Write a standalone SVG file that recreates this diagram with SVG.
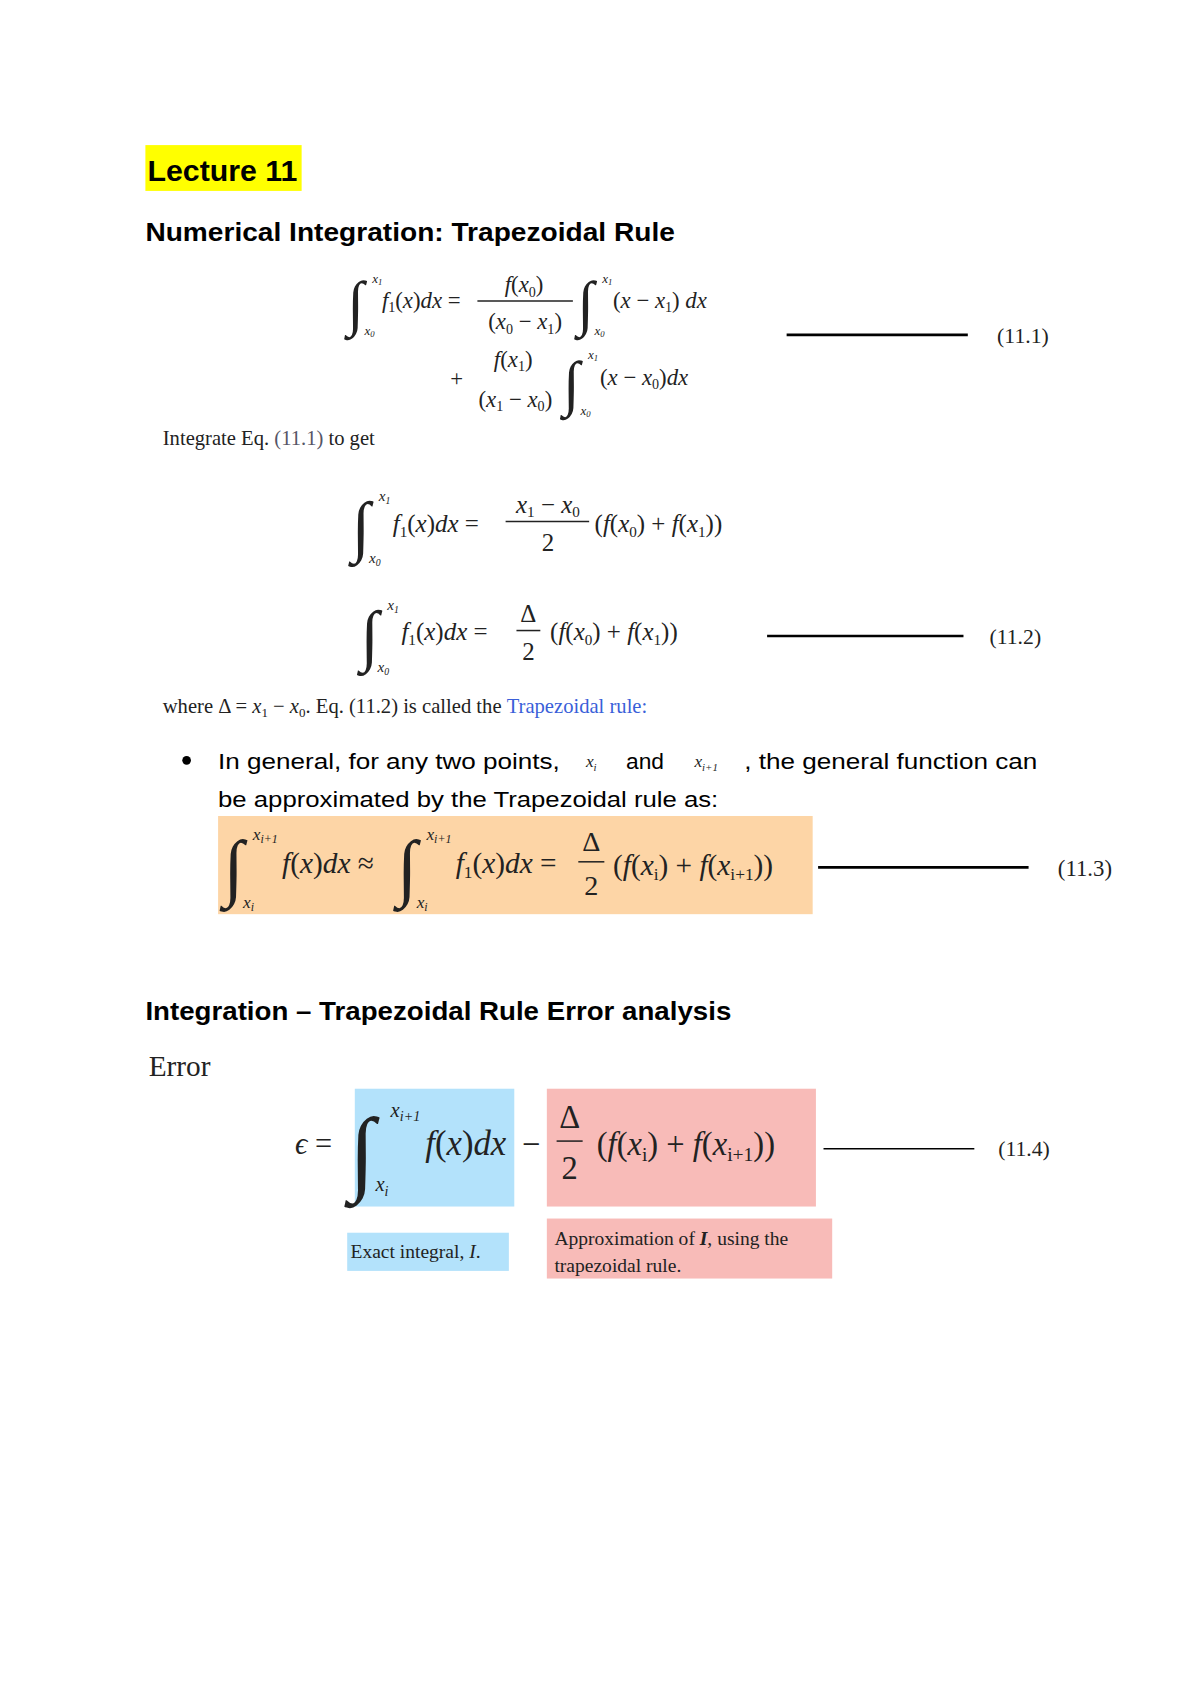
<svg xmlns="http://www.w3.org/2000/svg" width="1200" height="1698" viewBox="0 0 1200 1698">
<style>
.h{font-family:"Liberation Sans",Arial,sans-serif;font-weight:bold;fill:#000}
.b{font-family:"Liberation Sans",Arial,sans-serif;fill:#000}
.m{font-family:"Liberation Serif","Times New Roman",serif;font-style:italic;fill:#222}
.r{font-family:"Liberation Serif","Times New Roman",serif;font-style:normal}
.i{font-family:"Liberation Serif","Times New Roman",serif;fill:#222}
.ln{stroke:#000;stroke-width:2.5}
.fr{stroke:#222;stroke-width:1.4}
</style>
<rect width="1200" height="1698" fill="#fff"/>
<g transform="scale(1.085,1.0909)">
<g id="title">
<rect x="134" y="133" width="144" height="42" fill="#ffff00"/>
<text class="h" x="136" y="166" font-size="27" textLength="138" lengthAdjust="spacingAndGlyphs">Lecture 11</text>
<text class="h" x="134" y="221" font-size="24" textLength="488" lengthAdjust="spacingAndGlyphs">Numerical Integration: Trapezoidal Rule</text>
</g>
<g id="eq11_1">
<text class="i" x="320" y="297" font-size="56">∫</text>
<text class="m" x="343" y="259" font-size="12">x<tspan font-size="8" dy="2">1</tspan></text>
<text class="m" x="336" y="307" font-size="12">x<tspan font-size="8" dy="2">0</tspan></text>
<text class="m" x="352" y="282" font-size="21">f<tspan font-size="13" dy="4" class="r">1</tspan><tspan dy="-4" class="r">(</tspan>x<tspan class="r">)</tspan>dx <tspan class="r">=</tspan></text>
<text class="m" x="483" y="268" font-size="21" text-anchor="middle">f<tspan class="r">(</tspan>x<tspan font-size="13" dy="4" class="r">0</tspan><tspan dy="-4" class="r">)</tspan></text>
<line class="fr" x1="440" y1="276" x2="528" y2="276"/>
<text class="m" x="484" y="302" font-size="21" text-anchor="middle"><tspan class="r">(</tspan>x<tspan font-size="13" dy="4" class="r">0</tspan><tspan dy="-4" class="r"> − </tspan>x<tspan font-size="13" dy="4" class="r">1</tspan><tspan dy="-4" class="r">)</tspan></text>
<text class="i" x="532" y="297" font-size="56">∫</text>
<text class="m" x="555" y="259" font-size="12">x<tspan font-size="8" dy="2">1</tspan></text>
<text class="m" x="548" y="307" font-size="12">x<tspan font-size="8" dy="2">0</tspan></text>
<text class="m" x="565" y="282" font-size="21"><tspan class="r">(</tspan>x <tspan class="r">−</tspan> x<tspan font-size="13" dy="4" class="r">1</tspan><tspan dy="-4" class="r">)</tspan> dx</text>
<text class="r" x="415" y="354" font-size="21" fill="#222">+</text>
<text class="m" x="473" y="336" font-size="21" text-anchor="middle">f<tspan class="r">(</tspan>x<tspan font-size="13" dy="4" class="r">1</tspan><tspan dy="-4" class="r">)</tspan></text>
<text class="m" x="475" y="373" font-size="21" text-anchor="middle"><tspan class="r">(</tspan>x<tspan font-size="13" dy="4" class="r">1</tspan><tspan dy="-4" class="r"> − </tspan>x<tspan font-size="13" dy="4" class="r">0</tspan><tspan dy="-4" class="r">)</tspan></text>
<text class="i" x="519" y="370" font-size="56">∫</text>
<text class="m" x="542" y="329" font-size="12">x<tspan font-size="8" dy="2">1</tspan></text>
<text class="m" x="535" y="380" font-size="12">x<tspan font-size="8" dy="2">0</tspan></text>
<text class="m" x="553" y="353" font-size="21"><tspan class="r">(</tspan>x <tspan class="r">−</tspan> x<tspan font-size="13" dy="4" class="r">0</tspan><tspan dy="-4" class="r">)</tspan>dx</text>
<line class="ln" x1="725" y1="307" x2="892" y2="307"/>
<text class="i" x="919" y="314" font-size="20">(11.1)</text>
</g>
<text class="i" x="150" y="408" font-size="19">Integrate Eq. <tspan fill="#556">(11.1)</tspan> to get</text>
<g id="eq11_2a">
<text class="i" x="324" y="503" font-size="62">∫</text>
<text class="m" x="349" y="459" font-size="14">x<tspan font-size="9" dy="3">1</tspan></text>
<text class="m" x="340" y="516" font-size="14">x<tspan font-size="9" dy="3">0</tspan></text>
<text class="m" x="362" y="488" font-size="23">f<tspan font-size="14" dy="4" class="r">1</tspan><tspan dy="-4" class="r">(</tspan>x<tspan class="r">)</tspan>dx <tspan class="r">=</tspan></text>
<text class="m" x="505" y="470" font-size="23" text-anchor="middle">x<tspan font-size="14" dy="4" class="r">1</tspan><tspan dy="-4" class="r"> − </tspan>x<tspan font-size="14" dy="4" class="r">0</tspan></text>
<line class="fr" x1="466" y1="478" x2="543" y2="478"/>
<text class="i" x="505" y="505" font-size="23" text-anchor="middle">2</text>
<text class="m" x="548" y="488" font-size="23"><tspan class="r">(</tspan>f<tspan class="r">(</tspan>x<tspan font-size="14" dy="4" class="r">0</tspan><tspan dy="-4" class="r">) + </tspan>f<tspan class="r">(</tspan>x<tspan font-size="14" dy="4" class="r">1</tspan><tspan dy="-4" class="r">))</tspan></text>
</g>
<g id="eq11_2">
<text class="i" x="332" y="603" font-size="62">∫</text>
<text class="m" x="357" y="559" font-size="14">x<tspan font-size="9" dy="3">1</tspan></text>
<text class="m" x="348" y="616" font-size="14">x<tspan font-size="9" dy="3">0</tspan></text>
<text class="m" x="370" y="587" font-size="23">f<tspan font-size="14" dy="4" class="r">1</tspan><tspan dy="-4" class="r">(</tspan>x<tspan class="r">)</tspan>dx <tspan class="r">=</tspan></text>
<text class="i" x="487" y="570" font-size="23" text-anchor="middle">Δ</text>
<line class="fr" x1="476" y1="578" x2="498" y2="578"/>
<text class="i" x="487" y="605" font-size="23" text-anchor="middle">2</text>
<text class="m" x="507" y="587" font-size="23"><tspan class="r">(</tspan>f<tspan class="r">(</tspan>x<tspan font-size="14" dy="4" class="r">0</tspan><tspan dy="-4" class="r">) + </tspan>f<tspan class="r">(</tspan>x<tspan font-size="14" dy="4" class="r">1</tspan><tspan dy="-4" class="r">))</tspan></text>
<line class="ln" x1="707" y1="583" x2="888" y2="583"/>
<text class="i" x="912" y="590" font-size="20">(11.2)</text>
</g>
<text class="i" x="150" y="654" font-size="19">where Δ = <tspan font-style="italic">x</tspan><tspan font-size="12" dy="3">1</tspan><tspan dy="-3"> − </tspan><tspan font-style="italic">x</tspan><tspan font-size="12" dy="3">0</tspan><tspan dy="-3">.  Eq. (11.2) is called the </tspan><tspan fill="#3a5fd9">Trapezoidal rule:</tspan></text>
<g id="bullet">
<circle cx="172" cy="697" r="4" fill="#000"/>
<text class="b" x="201" y="705" font-size="21" textLength="315" lengthAdjust="spacingAndGlyphs">In general, for any two points,</text>
<text class="m" x="540" y="703" font-size="16">x<tspan font-size="10" dy="4">i</tspan></text>
<text class="b" x="577" y="705" font-size="21">and</text>
<text class="m" x="640" y="703" font-size="16">x<tspan font-size="10" dy="4">i+1</tspan></text>
<text class="b" x="686" y="705" font-size="21" textLength="270" lengthAdjust="spacingAndGlyphs">, the general function can</text>
<text class="b" x="201" y="740" font-size="21" textLength="461" lengthAdjust="spacingAndGlyphs">be approximated by the Trapezoidal rule as:</text>
</g>
<g id="eq11_3">
<rect x="201" y="748" width="548" height="90" fill="#fdd5a6"/>
<text class="i" x="206" y="818" font-size="68">∫</text>
<text class="m" x="233" y="770" font-size="16">x<tspan font-size="11" dy="3">i+1</tspan></text>
<text class="m" x="224" y="832" font-size="16">x<tspan font-size="11" dy="3">i</tspan></text>
<text class="m" x="260" y="800" font-size="27">f<tspan class="r">(</tspan>x<tspan class="r">)</tspan>dx <tspan class="r">≈</tspan></text>
<text class="i" x="366" y="818" font-size="68">∫</text>
<text class="m" x="393" y="770" font-size="16">x<tspan font-size="11" dy="3">i+1</tspan></text>
<text class="m" x="384" y="832" font-size="16">x<tspan font-size="11" dy="3">i</tspan></text>
<text class="m" x="420" y="800" font-size="27">f<tspan font-size="16" dy="5" class="r">1</tspan><tspan dy="-5" class="r">(</tspan>x<tspan class="r">)</tspan>dx <tspan class="r">=</tspan></text>
<text class="i" x="545" y="780" font-size="26" text-anchor="middle">Δ</text>
<line class="fr" x1="533" y1="790" x2="557" y2="790"/>
<text class="i" x="545" y="820" font-size="26" text-anchor="middle">2</text>
<text class="m" x="565" y="802" font-size="27"><tspan class="r">(</tspan>f<tspan class="r">(</tspan>x<tspan font-size="16" dy="5" class="r">i</tspan><tspan dy="-5" class="r">) + </tspan>f<tspan class="r">(</tspan>x<tspan font-size="16" dy="5" class="r">i+1</tspan><tspan dy="-5" class="r">))</tspan></text>
<line class="ln" x1="754" y1="795" x2="948" y2="795"/>
<text class="i" x="975" y="803" font-size="21">(11.3)</text>
</g>
<text class="h" x="134" y="935" font-size="24" textLength="540" lengthAdjust="spacingAndGlyphs">Integration – Trapezoidal Rule Error analysis</text>
<text class="i" x="137" y="986" font-size="27">Error</text>
<g id="eq11_4">
<rect x="327" y="998" width="147" height="108" fill="#b3e2fb"/>
<rect x="504" y="998" width="248" height="108" fill="#f8bbb8"/>
<text class="m" x="272" y="1058" font-size="28">ϵ <tspan class="r">=</tspan></text>
<text class="i" x="322" y="1084" font-size="86">∫</text>
<text class="m" x="360" y="1024" font-size="19">x<tspan font-size="13" dy="4">i+1</tspan></text>
<text class="m" x="346" y="1092" font-size="19">x<tspan font-size="13" dy="4">i</tspan></text>
<text class="m" x="392" y="1059" font-size="32">f<tspan class="r">(</tspan>x<tspan class="r">)</tspan>dx</text>
<text class="i" x="481" y="1059" font-size="30">−</text>
<text class="i" x="525" y="1034" font-size="30" text-anchor="middle">Δ</text>
<line class="fr" x1="513" y1="1046" x2="537" y2="1046" stroke-width="2"/>
<text class="i" x="525" y="1081" font-size="30" text-anchor="middle">2</text>
<text class="m" x="550" y="1059" font-size="30"><tspan class="r">(</tspan>f<tspan class="r">(</tspan>x<tspan font-size="18" dy="5" class="r">i</tspan><tspan dy="-5" class="r">) + </tspan>f<tspan class="r">(</tspan>x<tspan font-size="18" dy="5" class="r">i+1</tspan><tspan dy="-5" class="r">))</tspan></text>
<line stroke="#000" stroke-width="1.5" x1="759" y1="1053" x2="898" y2="1053"/>
<text class="i" x="920" y="1060" font-size="20">(11.4)</text>
</g>
<g id="label_exact">
<rect x="320" y="1130" width="149" height="35" fill="#b3e2fb"/>
<text class="i" x="323" y="1153" font-size="18" fill="#444">Exact integral, <tspan font-style="italic">I</tspan>.</text>
</g>
<g id="label_approx">
<rect x="504" y="1117" width="263" height="55" fill="#f8bbb8"/>
<text class="i" x="511" y="1141" font-size="18" fill="#444">Approximation of <tspan font-style="italic" font-weight="bold">I</tspan>, using the</text>
<text class="i" x="511" y="1166" font-size="18" fill="#444">trapezoidal rule.</text>
</g>
</g>
</svg>
